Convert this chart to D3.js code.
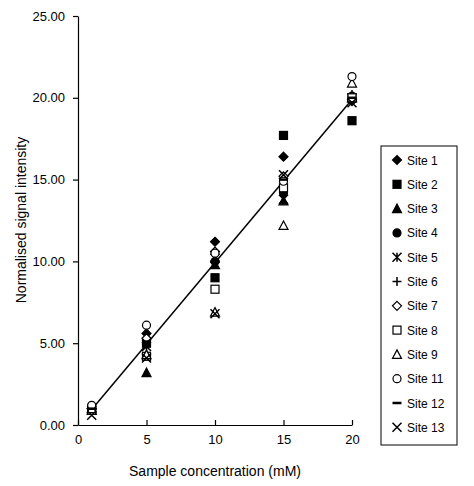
<!DOCTYPE html><html><head><script src="https://cdn.jsdelivr.net/npm/d3@7"></script>
<style>body{margin:0;background:#fff}text{font-family:"Liberation Sans",Arial,sans-serif;fill:#000}</style></head><body>
<svg id="c" width="474" height="486"></svg>
<script>
const conc=[1,5,10,15,20];
const sites=["Site 1","Site 2","Site 3","Site 4","Site 5","Site 6","Site 7","Site 8","Site 9","Site 11","Site 12","Site 13"];
const markers=["diamond","square","triangle","circle","star","plus","odiamond","osquare","otriangle","ocircle","dash","x"];
const values=[
[1.0,5.6,11.2,16.4,19.8],
[1.0,5.0,9.0,17.7,18.6],
[0.9,3.2,9.8,13.7,20.0],
[1.1,5.2,10.0,14.2,20.1],
[0.9,4.8,10.2,13.8,20.0],
[1.0,5.0,10.0,15.0,20.2],
[1.0,5.3,10.6,15.2,19.9],
[0.9,4.2,8.3,14.5,20.0],
[1.0,4.3,6.9,12.2,20.9],
[1.2,6.1,10.5,14.9,21.3],
[1.0,5.1,10.0,15.0,20.0],
[0.6,4.1,6.8,15.3,19.7]];
const fit=[0.997,-0.05];
const svg=d3.select("#c");
const x=d3.scaleLinear().domain([0,20]).range([78,352]);
const y=d3.scaleLinear().domain([0,25]).range([425,16]);
svg.append("g").attr("transform","translate(0,425)").call(d3.axisBottom(x).tickValues([0,5,10,15,20]).tickSizeInner(-5).tickSizeOuter(0).tickPadding(10))
 .call(g=>{g.selectAll("text").attr("font-size",13);});
svg.append("g").attr("transform","translate(78,0)").call(d3.axisLeft(y).tickValues(d3.range(0,26,5)).tickFormat(d3.format(".2f")).tickSizeInner(5).tickSizeOuter(0).tickPadding(8))
 .call(g=>{g.selectAll("text").attr("font-size",13);});
svg.selectAll(".domain,.tick line").attr("stroke","#000").attr("stroke-width",1.2);
svg.append("line").attr("x1",x(1)).attr("y1",y(fit[0]*1+fit[1])).attr("x2",x(20)).attr("y2",y(fit[0]*20+fit[1])).attr("stroke","#000").attr("stroke-width",1.5);
function mark(g,t,cx,cy){
 const s=4.5;
 const fill=t.startsWith("o")?"#fff":"#000";
 const b=t.replace(/^o/,"");
 if(b==="diamond")g.append("path").attr("d",`M${cx},${cy-s}L${cx+s},${cy}L${cx},${cy+s}L${cx-s},${cy}Z`).attr("fill",fill).attr("stroke","#000").attr("stroke-width",1.2);
 else if(b==="square")g.append("rect").attr("x",cx-s+0.5).attr("y",cy-s+0.5).attr("width",2*s-1).attr("height",2*s-1).attr("fill",fill).attr("stroke","#000").attr("stroke-width",1.2);
 else if(b==="triangle")g.append("path").attr("d",`M${cx},${cy-s}L${cx+s},${cy+s-0.5}L${cx-s},${cy+s-0.5}Z`).attr("fill",fill).attr("stroke","#000").attr("stroke-width",1.2);
 else if(b==="circle")g.append("circle").attr("cx",cx).attr("cy",cy).attr("r",s-0.5).attr("fill",fill).attr("stroke","#000").attr("stroke-width",1.2);
 else if(b==="star"){g.append("path").attr("d",`M${cx-s},${cy-s}L${cx+s},${cy+s}M${cx+s},${cy-s}L${cx-s},${cy+s}M${cx},${cy-s}V${cy+s}`).attr("stroke","#000").attr("stroke-width",1.5);}
 else if(b==="plus")g.append("path").attr("d",`M${cx-s},${cy}H${cx+s}M${cx},${cy-s}V${cy+s}`).attr("stroke","#000").attr("stroke-width",1.5);
 else if(b==="dash")g.append("path").attr("d",`M${cx-s},${cy}H${cx+s}`).attr("stroke","#000").attr("stroke-width",2.5);
 else if(b==="x")g.append("path").attr("d",`M${cx-s},${cy-s}L${cx+s},${cy+s}M${cx+s},${cy-s}L${cx-s},${cy+s}`).attr("stroke","#000").attr("stroke-width",1.5);
}
const pg=svg.append("g");
values.forEach((vs,i)=>vs.forEach((v,j)=>mark(pg,markers[i],x(conc[j]),y(v))));
svg.append("text").attr("x",215).attr("y",476).attr("text-anchor","middle").attr("font-size",14).text("Sample concentration (mM)");
svg.append("text").attr("transform","translate(26,220) rotate(-90)").attr("text-anchor","middle").attr("font-size",14).text("Normalised signal intensity");
const lg=svg.append("g");
lg.append("rect").attr("x",381).attr("y",146).attr("width",76).attr("height",299).attr("fill","#fff").attr("stroke","#000").attr("stroke-width",1);
sites.forEach((s,i)=>{const yy=160+i*24.3;mark(lg,markers[i],397,yy);lg.append("text").attr("x",407).attr("y",yy+4.5).attr("font-size",12).text(s);});
</script></body></html>
